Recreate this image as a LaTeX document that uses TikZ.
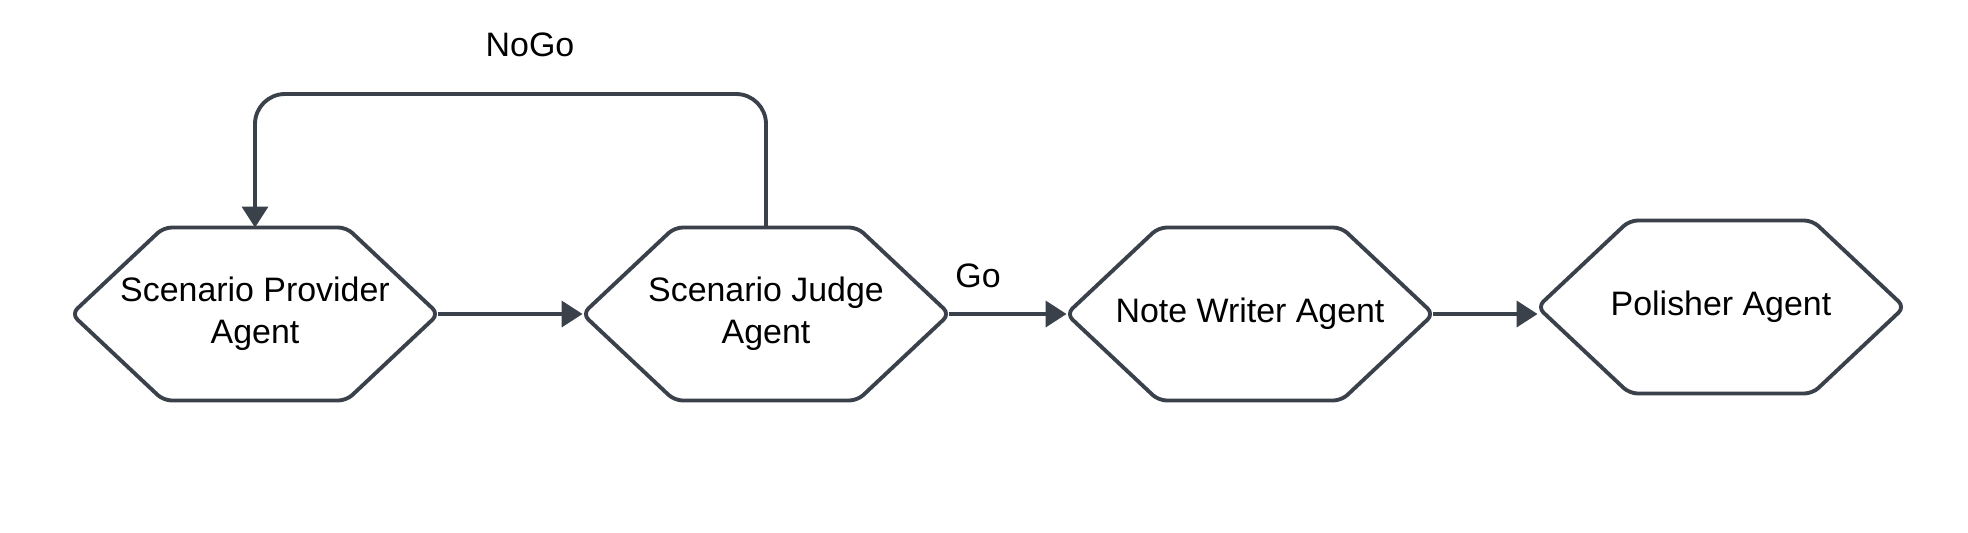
\documentclass[tikz,border=0pt]{standalone}
\usepackage{fontspec}
\setmainfont{Liberation Sans}
\usetikzlibrary{arrows.meta,calc}

\definecolor{lineGray}{RGB}{58,65,74}

\tikzset{
  agent/.style={minimum width=7.34cm, minimum height=3.46cm, align=center,
    outer sep=0pt, font=\fontsize{19.3}{23.9}\selectfont,
    append after command={\pgfextra{
      \draw[lineGray, line width=2.2pt, rounded corners=0.16cm, line join=round]
        (\tikzlastnode.west) -- ([xshift=1.84cm]\tikzlastnode.north west)
        -- ([xshift=-1.84cm]\tikzlastnode.north east) -- (\tikzlastnode.east)
        -- ([xshift=-1.84cm]\tikzlastnode.south east)
        -- ([xshift=1.84cm]\tikzlastnode.south west) -- cycle;}}},
  flow/.style={lineGray, line width=2.2pt, -{Triangle[length=0.42cm,width=0.52cm]}},
  tag/.style={font=\fontsize{19.3}{23.9}\selectfont}
}

\begin{document}
\begin{tikzpicture}[x=0.02cm, y=-0.02cm]
    % fond et cadre
    \fill[white] (0,0) rectangle (1968,532);

    % --- AGENTS ---
    \node[agent] (provider) at (255,314) {Scenario Provider\\Agent};
    \node[agent] (judge) at (766,314) {Scenario Judge\\Agent};
    \node[agent] (writer) at (1250,314) {Note Writer Agent};
    \node[agent] (polisher) at (1721,307) {Polisher Agent};

    % --- FLUX ---
    \draw[flow] (provider.east) -- (judge.west);
    \draw[flow] (judge.east) -- (writer.west);
    \draw[flow] (writer.east) -- (writer.east -| polisher.west);

    % Boucle de retour
    \coordinate (loopTop) at (511,94);
    \draw[flow, rounded corners=0.6cm] (judge.north) |- (loopTop) -| (provider.north);

    % Etiquettes
    \node[tag, anchor=base] (go) at (978,287) {Go};
    \node[tag, anchor=base] (nogo) at (530,56) {NoGo};
\end{tikzpicture}
\end{document}
